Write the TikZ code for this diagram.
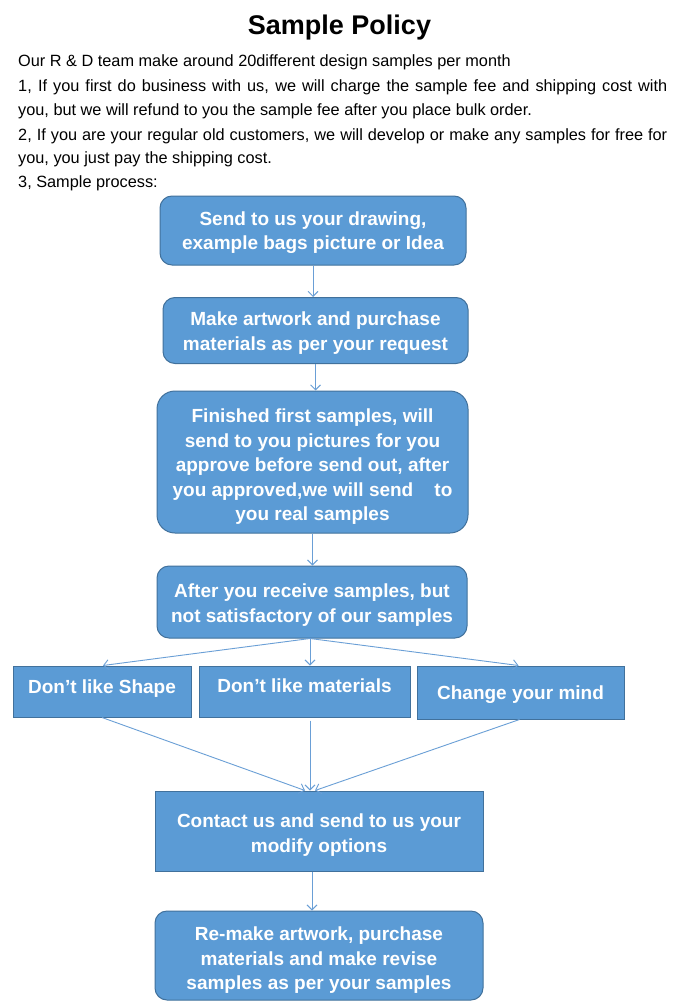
\documentclass[tikz,border=0pt]{standalone}
\usepackage{fontspec}
\setmainfont{Liberation Sans}
\usetikzlibrary{arrows.meta,calc}
\definecolor{boxfill}{HTML}{5B9BD5}
\definecolor{boxline}{HTML}{41719C}
\definecolor{arrowc}{HTML}{6A9FD6}
\newcommand\flowboxfont{\fontsize{19}{24.5}\selectfont\bfseries}
\newcommand\policybodyfont{\fontsize{16.3}{19}\selectfont}
\newcommand\policytitlefont{\fontsize{27}{30}\selectfont\bfseries}
\begin{document}
\begin{tikzpicture}[x=1pt,y=-1pt,
  box/.style={draw=boxline, line width=1pt, fill=boxfill, inner sep=0pt},
  rbox/.style={box, rounded corners=12pt},
  boxlabel/.style={text=white, font=\flowboxfont, align=center, inner sep=0pt},
  bodytext/.style={anchor=base west, inner sep=0pt, font=\policybodyfont},
  flow/.style={draw=arrowc, line width=0.9pt, -{Straight Barb[length=5pt,width=10pt]}},
]
\fill[white] (0,0) rectangle (700,1006);
\useasboundingbox (0,0) rectangle (700,1006);

\node[anchor=base, inner sep=0pt, font=\policytitlefont] (title) at (339.5,35) {Sample Policy};
\node[bodytext] (l1) at (18,67) {Our R \& D team make around 20different design samples per month};
\node[bodytext] (l2) at (18,92) {\makebox[649pt][s]{1, If you first do business with us, we will charge the sample fee and shipping cost with}};
\node[bodytext] (l3) at (18,116) {you, but we will refund to you the sample fee after you place bulk order.};
\node[bodytext] (l4) at (18,140) {\makebox[649pt][s]{2, If you are your regular old customers, we will develop or make any samples for free for}};
\node[bodytext] (l5) at (18,164) {you, you just pay the shipping cost.};
\node[bodytext] (l6) at (18,187) {3, Sample process:};

\node[rbox, minimum width=306pt, minimum height=69pt] (b1) at (313,230.5) {};
\node[boxlabel] (b1t) at ($(b1.center)+(0,2)$) {Send to us your drawing,\\example bags picture or Idea};
\node[rbox, minimum width=305pt, minimum height=66pt] (b2) at (315.5,330.5) {};
\node[boxlabel] (b2t) at ($(b2.center)+(0,2.5)$) {Make artwork and purchase\\materials as per your request};
\node[box, rounded corners=18pt, minimum width=311pt, minimum height=142pt] (b3) at (312.5,462) {};
\node[boxlabel] (b3t) at ($(b3.center)+(0,5)$) {Finished first samples, will\\send to you pictures for you\\approve before send out, after\\you approved,we will send\ \ \ \ to\\you real samples};
\node[rbox, minimum width=310pt, minimum height=72pt] (b4) at (312,602) {};
\node[boxlabel] (b4t) at ($(b4.center)+(0,3)$) {After you receive samples, but\\not satisfactory of our samples};

\node[box, minimum width=178pt, minimum height=51pt] (shape) at (102,691.5) {};
\node[boxlabel] (shapet) at ($(shape.center)+(0,-3)$) {Don’t like Shape};
\node[box, minimum width=211pt, minimum height=51pt] (mat) at (304.5,691.5) {};
\node[boxlabel] (matt) at ($(mat.center)+(0,-5.5)$) {Don’t like materials};
\node[box, minimum width=207pt, minimum height=53pt] (change) at (520.5,692.5) {};
\node[boxlabel] (changet) at ($(change.center)+(0,2)$) {Change your mind};

\node[box, minimum width=328pt, minimum height=80pt] (contact) at (319,831) {};
\node[boxlabel] (contactt) at ($(contact.center)+(0,4)$) {Contact us and send to us your\\modify options};
\node[rbox, minimum width=328pt, minimum height=89pt] (last) at (319,955.5) {};
\node[boxlabel] (lastt) at ($(last.center)+(0,5)$) {Re-make artwork, purchase\\materials and make revise\\samples as per your samples};

\draw[flow] (b1.south) -- (b1.south |- b2.north);
\draw[flow] (b2.south) -- (b2.south |- b3.north);
\draw[flow] (b3.south) -- (b3.south |- b4.north);
\coordinate (fan) at ($(b4.south)+(-2,0)$);
\draw[flow] (fan) -- ($(shape.north)+(1,0)$);
\draw[flow] (fan) -- (fan |- mat.north);
\draw[flow] (fan) -- ($(change.north)+(-2,0)$);
\draw[flow] (shape.south) -- ($(contact.north)+(-14,0)$);
\draw[flow] ($(mat.south)+(5.5,3)$) -- ($(contact.north)+(-9,0)$);
\draw[flow] ($(change.south)+(-1,0)$) -- ($(contact.north)+(-4,0)$);
\coordinate (c1) at ($(contact.south)+(-7,0)$);
\draw[flow] (c1) -- (c1 |- last.north);
\end{tikzpicture}
\end{document}
